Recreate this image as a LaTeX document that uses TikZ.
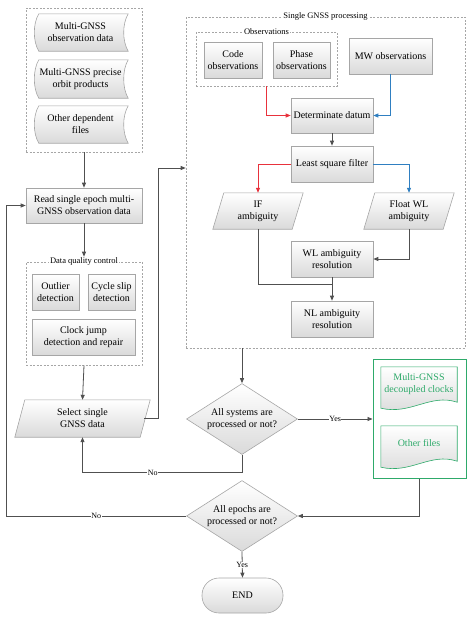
\documentclass[tikz,border=0pt]{standalone}
\usepackage{fontspec}
\setmainfont{Liberation Serif}
\usetikzlibrary{arrows.meta, shapes.geometric, backgrounds, calc}

\definecolor{boxline}{HTML}{A6A6A6}
\definecolor{boxfill}{HTML}{DADADA}
\definecolor{linegray}{HTML}{505050}
\definecolor{obsred}{HTML}{E8323C}
\definecolor{mwblue}{HTML}{2F7FC1}
\definecolor{outgreen}{HTML}{2EAA6A}

\tikzset{
  proc/.style={draw=boxline, line width=0.6pt, top color=white, bottom color=boxfill, align=center,
    font=\fontsize{10}{12}\selectfont, inner sep=1pt},
  plain/.style={align=center, font=\fontsize{10}{12}\selectfont, inner sep=1pt},
  shapefill/.style={draw=boxline, line width=0.6pt, top color=white, bottom color=boxfill},
  grp/.style={draw=boxline, line width=0.6pt, dash pattern=on 2pt off 1.5pt, inner sep=0pt},
  grptitle/.style={fill=white, inner sep=1.5pt, font=\fontsize{8.5}{10}\selectfont},
  decide/.style={diamond, draw=boxline, line width=0.6pt, top color=white, bottom color=boxfill, align=center,
    font=\fontsize{10}{12}\selectfont, inner sep=0pt, minimum width=111pt, minimum height=71pt,
    shape aspect=1.56},
  link/.style={draw=linegray, line width=0.8pt, -{Triangle[length=5pt,width=4pt]}},
  lbl/.style={fill=white, inner sep=0.5pt, font=\fontsize{8}{9}\selectfont},
}

\begin{document}
\begin{tikzpicture}[x=1pt, y=-1pt]
\useasboundingbox (0,0) rectangle (474,622);

% Input files
\node[grp, minimum width=116pt, minimum height=144pt] (inputs) at (84,80) {};
\node[plain, minimum width=95pt, minimum height=37pt] (obsdata) at (80.5,32.5) {Multi-GNSS\\observation data};
\node[plain, minimum width=95pt, minimum height=38pt] (orbit) at (80.5,79) {Multi-GNSS precise\\orbit products};
\node[plain, minimum width=95pt, minimum height=37pt] (depfiles) at (80.5,124.5) {Other dependent\\files};

\node[proc, minimum width=116pt, minimum height=35pt] (readepoch) at (84,205.5) {Read single epoch multi-\\GNSS observation data};

% Data quality control
\node[grp, minimum width=116pt, minimum height=103pt] (dqc) at (84,313.5) {};
\node[grptitle] at (dqc.north) {Data quality control};
\node[proc, minimum width=47pt, minimum height=36pt] (outlier) at (55.5,292) {Outlier\\detection};
\node[proc, minimum width=47pt, minimum height=36pt] (cycleslip) at (111.5,292) {Cycle slip\\detection};
\node[proc, minimum width=103pt, minimum height=36pt] (clockjump) at (83.5,337) {Clock jump\\detection and repair};

\node[plain, minimum width=135pt, minimum height=37pt] (select) at (82.5,418.5) {Select single\\GNSS data};

% Single GNSS processing
\node[grp, minimum width=279pt, minimum height=331pt] (sgp) at (325.5,182.5) {};
\node[grptitle] at (sgp.north) {Single GNSS processing};
\node[grp, minimum width=141pt, minimum height=54pt] (obs) at (266.5,59) {};
\node[grptitle] at (obs.north) {Observations};
\node[proc, minimum width=58pt, minimum height=36pt] (code) at (233,60) {Code\\observations};
\node[proc, minimum width=57pt, minimum height=36pt] (phase) at (301.5,60) {Phase\\observations};
\node[proc, minimum width=83pt, minimum height=36pt] (mw) at (390.5,56) {MW observations};
\node[proc, minimum width=82pt, minimum height=35pt] (datum) at (332,115.5) {Determinate datum};
\node[proc, minimum width=82pt, minimum height=36pt] (lsf) at (332,164) {Least square filter};
\node[plain, minimum width=90pt, minimum height=36pt] (ifamb) at (258,211) {IF\\ambiguity};
\node[plain, minimum width=90pt, minimum height=36pt] (floatwl) at (409,211) {Float WL\\ambiguity};
\node[proc, minimum width=82pt, minimum height=36pt] (wlres) at (332,259) {WL ambiguity\\resolution};
\node[proc, minimum width=82pt, minimum height=36pt] (nlres) at (332,319) {NL ambiguity\\resolution};
\coordinate (join) at (332,284);

% Decisions and outputs
\node[decide] (sysdone) at (242,419) {All systems are\\processed or not?};
\node[draw=outgreen, line width=1pt, minimum width=93pt, minimum height=119pt] (output) at (419.5,418.5) {};
\node[plain, text=outgreen, minimum width=76pt, minimum height=34pt] (clocks) at (419,384) {Multi-GNSS\\decoupled clocks};
\node[plain, text=outgreen, minimum width=76pt, minimum height=34pt] (otherfiles) at (419,443) {Other files};
\node[decide] (epochdone) at (242,516) {All epochs are\\processed or not?};
\node[proc, rounded corners=17pt, minimum width=81pt, minimum height=35pt] (endnode) at (242.5,595.5) {END};

% Shapes behind the texts
\begin{scope}[on background layer]
\foreach \n in {obsdata, orbit, depfiles}
  \draw[shapefill] ([xshift=6pt]\n.north west) -- (\n.north east)
    .. controls ([xshift=-6pt,yshift=-10pt]\n.north east) and ([xshift=-6pt,yshift=10pt]\n.south east) .. (\n.south east)
    -- ([xshift=6pt]\n.south west)
    .. controls ([yshift=10pt]\n.south west) and ([yshift=-10pt]\n.north west) .. ([xshift=6pt]\n.north west) -- cycle;
\foreach \n/\s in {select/10, ifamb/11, floatwl/11}
  \draw[shapefill] ([xshift=\s pt]\n.north west) -- (\n.north east)
    -- ([xshift=-\s pt]\n.south east) -- (\n.south west) -- cycle;
\foreach \n in {clocks, otherfiles}
  \draw[shapefill, draw=outgreen] (\n.north west) -- (\n.north east) -- ([yshift=-1pt]\n.south east)
    .. controls ([xshift=-27pt,yshift=8pt]\n.south east) and ([xshift=30pt,yshift=-14pt]\n.south west) .. ([yshift=-7pt]\n.south west) -- cycle;
\end{scope}

% Connectors
\draw[link] (inputs.south) -- (readepoch.north);
\draw[link] (readepoch.south) -- ([yshift=5pt]dqc.north);
\draw[link] (dqc.south) -- (select.north);
\draw[link] ([xshift=-6pt]select.east) -- ++(14,0) |- (sgp.west |- 0,168);
\draw[link, obsred] (obs.south) |- (datum.west);
\draw[link, mwblue] (mw.south) |- (datum.east);
\draw[link] (datum.south) -- (lsf.north);
\draw[link, obsred] (lsf.west) -| (ifamb.north);
\draw[link, mwblue] (lsf.east) -| (floatwl.north);
\draw[link] (floatwl.south) |- (wlres.east);
\draw[draw=linegray, line width=0.8pt] (ifamb.south) |- (join);
\draw[link] (wlres.south) -- (nlres.north);
\draw[link] (sgp.south -| sysdone.north) -- (sysdone.north);
\draw[link] (sysdone.east) -- node[lbl] {Yes} (output.west |- sysdone.east);
\draw[link] (sysdone.south) -- ++(0,18) -| node[lbl, pos=0.28] {No} (select.south);
\draw[link] (output.south -| otherfiles.south) |- (epochdone.east);
\draw[link] (epochdone.west) -- node[lbl] {No} ++(-180,0) |- (readepoch.west);
\draw[link] (epochdone.south) -- node[lbl] {Yes} (endnode.north);
\end{tikzpicture}
\end{document}
